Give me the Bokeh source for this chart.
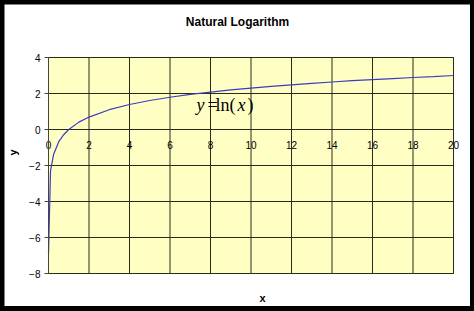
import math
from bokeh.plotting import figure
from bokeh.models import Range1d, FixedTicker, Label, LinearAxis
from bokeh.layouts import column
from bokeh.core.properties import value
from bokeh.embed import file_html
from bokeh.resources import INLINE

# data (y = ln(x))
xs = [0.001, 0.1, 0.25, 0.5, 0.75, 1.0, 1.5, 2, 3, 4, 5, 6, 7, 8, 9, 10,
      11, 12, 13, 14, 15, 16, 17, 18, 19, 20]
ys = [-6.91, -2.30, -1.39, -0.69, -0.29, 0.0, 0.41, 0.69, 1.10, 1.39, 1.61,
      1.79, 1.95, 2.08, 2.20, 2.30, 2.40, 2.48, 2.56, 2.64, 2.71, 2.77, 2.83,
      2.89, 2.94, 3.00]
x_ticks = [0, 2, 4, 6, 8, 10, 12, 14, 16, 18, 20]
y_ticks = [-8, -6, -4, -2, 0, 2, 4]
title_text = "Natural Logarithm"
x_label = "x"
y_label = "y"
eq_parts = ["y", "=", "ln(", "x", ")"]
eq_styles = ["italic", "normal", "normal", "italic", "normal"]

# layout (pixels inside the white chart area, 466 x 302)
W, H = 466, 302
FL, FR, FT, FB = 44, 449, 53, 269
x0, x1 = x_ticks[0], x_ticks[-1]
y0, y1 = y_ticks[0], y_ticks[-1]
kx = (FR - FL) / (x1 - x0)
ky = (FB - FT) / (y1 - y0)
xr = Range1d(x0 - FL / kx, x1 + (W - FR) / kx)
yr = Range1d(y0 - (H - FB) / ky, y1 + FT / ky)

def px(xp):
    return x0 + (xp - FL) / kx

def py(yp):
    return y1 - (yp - FT) / ky

p = figure(width=W, height=H, output_backend="svg", toolbar_location=None,
           x_range=xr, y_range=yr, x_axis_type=None, y_axis_type=None,
           min_border=0, min_border_left=0, min_border_right=0,
           min_border_top=0, min_border_bottom=0, title=None)
p.background_fill_color = "white"
p.border_fill_color = "white"
p.outline_line_color = None
p.xgrid.visible = False
p.ygrid.visible = False

# plot area
p.quad(left=[x0], right=[x1], bottom=[y0], top=[y1],
       fill_color="#FFFFC4", line_color="#808080")
# grid lines
p.segment(x0=x_ticks, y0=[y0] * len(x_ticks), x1=x_ticks, y1=[y1] * len(x_ticks),
          line_color="#2a2a1a", line_width=1)
p.segment(x0=[x0] * len(y_ticks), y0=y_ticks, x1=[x1] * len(y_ticks), y1=y_ticks,
          line_color="#2a2a1a", line_width=1)

# y axis at x = 0
yax = LinearAxis(fixed_location=x0, bounds=(y0, y1),
                 ticker=FixedTicker(ticks=y_ticks))
yax.major_label_text_font = "Liberation Sans"
yax.major_label_text_font_size = "10px"
yax.major_label_text_color = "black"
yax.minor_tick_line_color = None
yax.axis_line_color = "#444444"
yax.major_tick_line_color = "#444444"
yax.major_tick_out = 4
yax.major_tick_in = 0
yax.major_label_standoff = 4
p.add_layout(yax, "left")

# x axis crossing at y = 0
xax = LinearAxis(fixed_location=0, bounds=(x0, x1),
                 ticker=FixedTicker(ticks=x_ticks))
xax.major_label_text_font = "Liberation Sans"
xax.major_label_text_font_size = "10px"
xax.major_label_text_color = "black"
xax.minor_tick_line_color = None
xax.axis_line_color = None
xax.major_tick_line_color = None
xax.major_tick_out = 0
xax.major_tick_in = 0
xax.major_label_standoff = 11
p.add_layout(xax, "below")

p.line(xs, ys, line_color="#3c3cc0", line_width=1.2)

# titles
p.add_layout(Label(x=px(233), y=py(17), text=title_text, text_align="center",
                   text_baseline="middle", text_font="Liberation Sans",
                   text_font_size="12px", text_font_style="bold",
                   text_color="black"))
p.add_layout(Label(x=px(258), y=py(293), text=x_label, text_align="center",
                   text_baseline="middle", text_font="Liberation Sans",
                   text_font_size="11px", text_font_style="bold",
                   text_color="black"))
p.add_layout(Label(x=px(8), y=py(148), text=y_label, text_align="center",
                   text_baseline="middle", angle=math.pi / 2,
                   text_font="Liberation Sans", text_font_size="11px",
                   text_font_style="bold", text_color="black"))

# equation
eq_offsets = [0, 11, 19, 41, 51]
for part, style, off in zip(eq_parts, eq_styles, eq_offsets):
    p.text(x=[px(192)], y=[py(100)], text=[part], x_offset=off,
           text_font=value("Liberation Serif"), text_font_size="18px",
           text_font_style=style, text_baseline="alphabetic",
           text_align="left", text_color="black")

layout = column(p, styles={"background-color": "black",
                           "padding": "4px 4px 5px 4px"})

open("out.html", "w").write(file_html(layout, INLINE))
